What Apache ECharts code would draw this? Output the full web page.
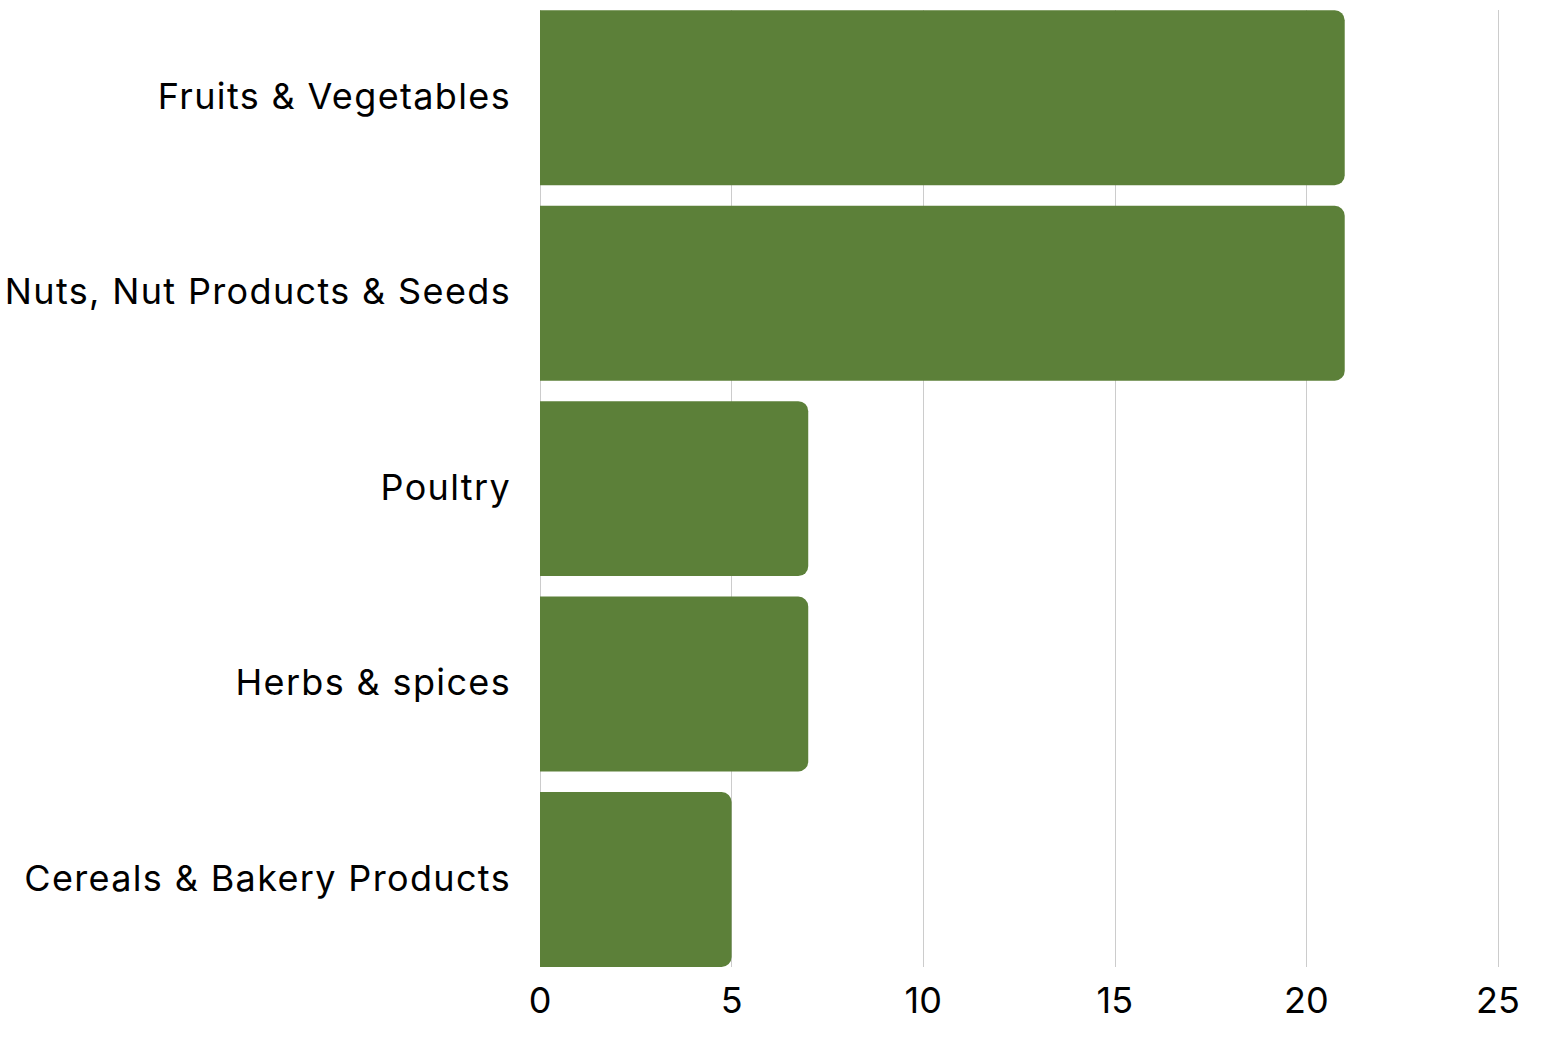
<!DOCTYPE html>
<html>
<head>
<meta charset="utf-8">
<script src="https://cdn.jsdelivr.net/npm/echarts@6/dist/echarts.min.js"></script>
<style>
html,body{margin:0;padding:0;background:#fff;}
#chart{width:1545px;height:1037px;}
#chart text[text-anchor="end"]{letter-spacing:1.35px;}
</style>
</head>
<body>
<div id="chart"></div>
<script>
const categories = ["Fruits & Vegetables", "Nuts, Nut Products & Seeds", "Poultry", "Herbs & spices", "Cereals & Bakery Products"];
const values = [21, 21, 7, 7, 5];
const xTicks = [0, 5, 10, 15, 20, 25];

const chart = echarts.init(document.getElementById('chart'), null, { renderer: 'svg' });
const font = 'Inter';
chart.setOption({
  animation: false,
  backgroundColor: '#ffffff',
  grid: [
    { left: 540, right: 47, top: 10, bottom: 70, containLabel: false },
    { left: 540, right: 47, top: -0.25, bottom: 59.75, containLabel: false }
  ],
  xAxis: [
    {
      gridIndex: 0, type: 'value', min: xTicks[0], max: xTicks[xTicks.length - 1], interval: 5,
      axisLine: { show: false }, axisTick: { show: false },
      axisLabel: { show: true, fontFamily: font, fontSize: 36, color: '#000', margin: 15 },
      splitLine: { show: true, lineStyle: { color: '#cccccc', width: 1 } }
    },
    {
      gridIndex: 1, type: 'value', min: 0, max: 25, interval: 5,
      axisLine: { show: false }, axisTick: { show: false }, axisLabel: { show: false }, splitLine: { show: false }
    }
  ],
  yAxis: [
    {
      gridIndex: 0, type: 'category', data: categories, inverse: true,
      axisLine: { show: false }, axisTick: { show: false }, axisLabel: { show: false }, splitLine: { show: false }
    },
    {
      gridIndex: 1, type: 'category', data: categories, inverse: true,
      axisLine: { show: false }, axisTick: { show: false },
      axisLabel: { fontFamily: font, fontSize: 36, color: '#000', margin: 29, verticalAlign: 'bottom', lineHeight: 4 }
    }
  ],
  series: [{
    type: 'bar', xAxisIndex: 1, yAxisIndex: 1, data: values,
    barCategoryGap: '10.5%',
    itemStyle: { color: '#5c8039', borderRadius: [0, 10, 10, 0] }
  }]
});
</script>
</body>
</html>
